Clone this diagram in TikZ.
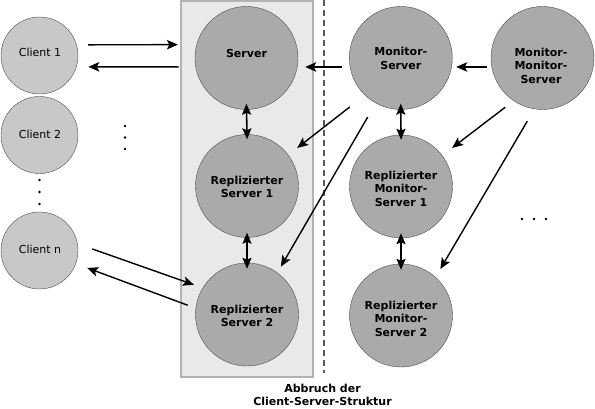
\documentclass[tikz,border=0pt]{standalone}
\usepackage{fontspec}
\setmainfont{DejaVu Sans}
\usetikzlibrary{arrows.meta}
\definecolor{clientgray}{RGB}{200,200,200}
\definecolor{servergray}{RGB}{170,170,170}
\definecolor{boxgray}{RGB}{233,233,233}
\begin{document}
\begin{tikzpicture}[x=1pt,y=-1pt,
        client/.style={circle,draw=black!70,fill=clientgray,minimum size=77pt,inner sep=0pt},
        server/.style={circle,draw=black!70,fill=servergray,minimum size=103pt,inner sep=0pt},
        txt/.style={align=center,inner sep=0pt,font=\fontsize{11}{13.5}\selectfont},
        btxt/.style={txt,font=\fontsize{11}{13.5}\selectfont\bfseries},
        arr/.style={line width=1.4pt,-{Stealth[length=11pt,width=9.5pt,inset=2.5pt]}},
        dblarr/.style={line width=1.6pt,{Stealth[length=11pt,width=9pt,inset=2pt]}-{Stealth[length=11pt,width=9pt,inset=2pt]}}]
                        \useasboundingbox (0,0) rectangle (595,409);

                        \draw[draw=black!30, fill=boxgray, line width=1.2pt] (181,1) rectangle (313,377);
                        \draw[black!65, line width=1.8pt, dash pattern=on 6pt off 4pt] (324,0) -- (324,373);

                        \node[client] (client1) at (39.5,55.5) {};
                        \node[client] (client2) at (39.5,135) {};
                        \node[client] (clientn) at (39.5,250.5) {};
                        \node[txt] (client1-t) at (40,52) {Client 1};
                        \node[txt] (client2-t) at (40,134) {Client 2};
                        \node[txt] (clientn-t) at (40,249) {Client n};

                        \node[server] (server) at (246.5,58) {};
                        \node[server] (repl1) at (247,186) {};
                        \node[server] (repl2) at (247,314.5) {};
                        \node[btxt] (server-t) at (246.5,53) {Server};
                        \node[btxt] (repl1-t) at (247,187) {Replizierter\\Server 1};
                        \node[btxt] (repl2-t) at (247,316) {Replizierter\\Server 2};

                        \node[server] (monitor) at (400.8,58) {};
                        \node[server] (mrepl1) at (401,186.5) {};
                        \node[server] (mrepl2) at (401,315.5) {};
                        \node[server] (monmon) at (542.5,58) {};
                        \node[btxt] (monitor-t) at (400.8,58.5) {Monitor-\\Server};
                        \node[btxt] (mrepl1-t) at (401,188.5) {Replizierter\\Monitor-\\Server 1};
                        \node[btxt] (mrepl2-t) at (401,318.5) {Replizierter\\Monitor-\\Server 2};
                        \node[btxt] (monmon-t) at (541,65.5) {Monitor-\\Monitor-\\Server};

                        \node[btxt] (cut-t) at (322.5,395) {Abbruch der\\Client-Server-Struktur};

                        \foreach \y in {180,192,204} \fill (39.5,\y) circle (1.3pt);
                        \foreach \y in {126,137.5,149} \fill (125,\y) circle (1.3pt);
                        \foreach \x in {522,534,546} \fill (\x,219) circle (1.3pt);

                        \draw[arr, shorten <=11.5pt, shorten >=18.7pt] (client1.16) -- (server.165);
                        \draw[arr, shorten <=16.8pt, shorten >=11.8pt] (server.190) -- (client1.343);
                        \draw[arr, shorten <=15.5pt, shorten >=9.3pt] (clientn.10) -- (repl2.149);
                        \draw[arr, shorten <=8.5pt, shorten >=12.1pt] (repl2.173) -- (clientn.340);

                        \draw[arr, shorten <=8pt, shorten >=7.8pt] (monitor.190) -- (server.350);
                        \draw[arr, shorten <=4.8pt, shorten >=4.5pt] (monmon.190) -- (monitor.350);
                        \draw[arr, shorten <=19.2pt, shorten >=11.3pt] (monitor.226) -- (repl1.37);
                        \draw[arr, shorten <=16pt, shorten >=7pt] (monitor.241) -- (repl2.54);
                        \draw[arr, shorten <=10.6pt, shorten >=12.4pt] (monmon.236) -- (mrepl1.37);
                        \draw[arr, shorten <=14.1pt, shorten >=9.4pt] (monmon.261) -- (mrepl2.48);

                        \draw[dblarr, shorten <=-6pt, shorten >=-5pt] (server.south) -- (repl1.north);
                        \draw[dblarr, shorten <=-5pt, shorten >=-6pt] (repl1.south) -- (repl2.north);
                        \draw[dblarr, shorten <=-6pt, shorten >=-5pt] (monitor.south) -- (mrepl1.north);
                        \draw[dblarr, shorten <=-5pt, shorten >=-6pt] (mrepl1.south) -- (mrepl2.north);
                    \end{tikzpicture}
\end{document}
